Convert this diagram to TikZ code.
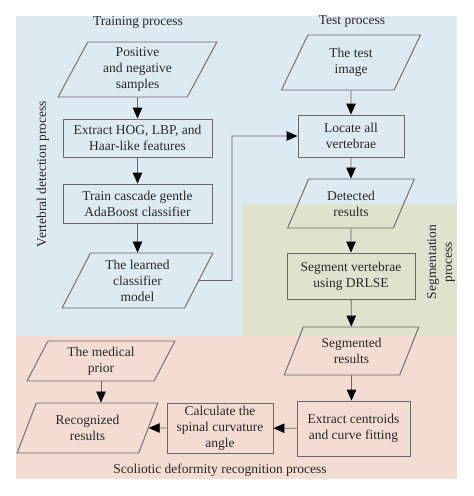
\documentclass[tikz,border=0pt]{standalone}
\usepackage{fontspec}
\setmainfont{Liberation Serif}
\usetikzlibrary{shapes.geometric,arrows.meta}
\definecolor{bgblue}{RGB}{222,234,242}
\definecolor{bggreen}{RGB}{222,227,205}
\definecolor{bgpink}{RGB}{243,221,210}
\definecolor{edge}{RGB}{105,105,105}
\definecolor{txt}{RGB}{40,40,40}
\tikzset{
  every node/.style={font=\fontsize{13.5}{16}\selectfont, align=center, text=txt},
  procbox/.style={draw=edge, line width=0.9pt, rectangle, inner sep=0pt},
  iobox/.style={draw=edge, line width=0.9pt, shape=trapezium, trapezium left angle=65,
    trapezium right angle=115, trapezium stretches=true, inner sep=0pt},
  flow/.style={draw=edge, line width=0.9pt, -{Triangle[length=11pt,width=9.5pt,color=black]}},
  lbl/.style={inner sep=0pt}
}
\begin{document}
\begin{tikzpicture}[x=1pt,y=-1pt]
\useasboundingbox (0,0) rectangle (474,496);
% backgrounds
\fill[bgblue] (16,16) rectangle (457,336);
\fill[bggreen] (242,204) rectangle (457,336);
\fill[bgpink] (16,336) rectangle (457,479);
% labels
\node[lbl] (ltrain) at (138,22) {Training process};
\node[lbl] (ltest) at (352,22) {Test process};
\node[lbl, rotate=90] (lvert) at (43,174) {Vertebral detection process};
\node[lbl, rotate=90] (lseg) at (441,262) {Segmentation\\process};
\node[lbl] (lscol) at (220,470) {Scoliotic deformity recognition process};
% nodes
\node[iobox, minimum width=159pt, minimum height=55pt] (pos) at (137.5,69.5) {Positive\\and negative\\samples};
\node[procbox, minimum width=149pt, minimum height=38pt] (hog) at (137.5,138) {Extract HOG, LBP, and\\Haar-like features};
\node[procbox, minimum width=149pt, minimum height=39pt] (train) at (137.5,203.5) {Train cascade gentle\\AdaBoost classifier};
\node[iobox, minimum width=151pt, minimum height=55pt] (learned) at (137.5,280.5) {The learned\\classifier\\model};
\node[iobox, minimum width=140pt, minimum height=55pt] (test) at (351,62.5) {The test\\image};
\node[procbox, minimum width=106pt, minimum height=42pt] (locate) at (351,136) {Locate all\\vertebrae};
\node[iobox, minimum width=127pt, minimum height=49pt] (detected) at (351,203.5) {Detected\\results};
\node[procbox, minimum width=128pt, minimum height=46pt] (segment) at (351,276) {Segment vertebrae\\using DRLSE};
\node[iobox, minimum width=135pt, minimum height=48pt] (segmented) at (351.5,351) {Segmented\\results};
\node[procbox, minimum width=113pt, minimum height=55pt] (extract) at (353.5,428.5) {Extract centroids\\and curve fitting};
\node[procbox, minimum width=106pt, minimum height=50pt] (calc) at (220,428) {Calculate the\\spinal curvature\\angle};
\node[iobox, minimum width=141pt, minimum height=50pt] (recog) at (87.5,428) {Recognized\\results};
\node[iobox, minimum width=148pt, minimum height=40pt] (medical) at (101,361) {The medical\\prior};
\coordinate (bend1) at (232,280.5);
\coordinate (bend2) at (232,136);
% connectors
\draw[flow] (pos) -- (hog);
\draw[flow] (hog) -- (train);
\draw[flow] (train) -- (learned);
\draw[flow] (test) -- (locate);
\draw[flow] (locate) -- (detected);
\draw[flow] (detected) -- (segment);
\draw[flow] (segment) -- (segmented);
\draw[flow] (segmented.south) -- (segmented.south |- extract.north);
\draw[flow] (extract) -- (calc);
\draw[flow] (calc) -- (recog);
\draw[flow] (medical.south) -- (medical.south |- recog.north);
\draw[flow] (learned.east) -- (bend1) -- (bend2) -- (locate.west);
\end{tikzpicture}
\end{document}
